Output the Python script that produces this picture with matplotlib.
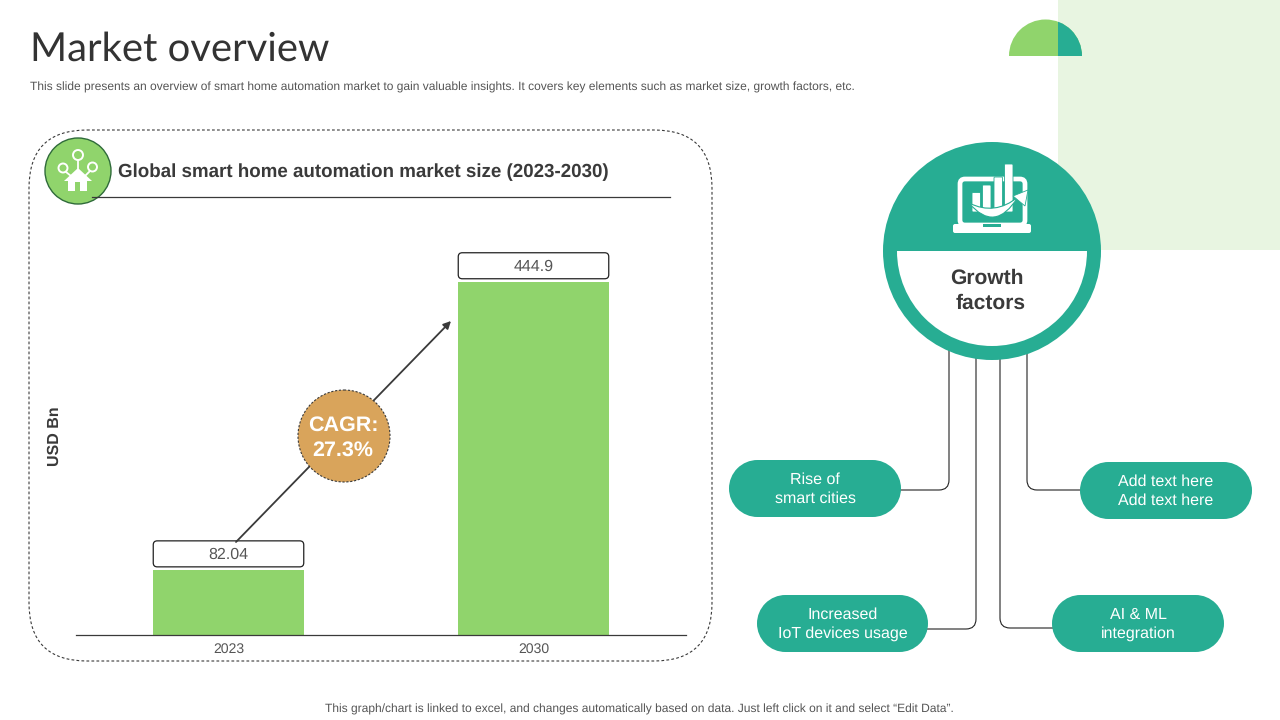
import matplotlib
matplotlib.use("Agg")
import matplotlib.pyplot as plt
from matplotlib.patches import Circle, FancyBboxPatch, Polygon, Rectangle, Wedge, PathPatch
from matplotlib.path import Path

plt.rcParams['font.family'] = ['Liberation Sans', 'DejaVu Sans']
plt.rcParams['text.hinting'] = 'no_hinting'

# data
years = ["2023", "2030"]
market_size = [82.04, 444.9]
value_labels = ["82.04", "444.9"]
cagr_label = "CAGR:\n27.3%"
pill_labels = ["Rise of\nsmart cities", "Add text here\nAdd text here",
               "Increased\nIoT devices usage", "AI & ML\nintegration"]

TEAL = "#27AD93"
GREEN = "#90D46C"
PALE = "#E8F5E1"
GOLD = "#D9A45B"
DARK = "#3A3A3A"
GREY = "#555555"


def px(v):
    # pixels to points at dpi 100
    return v * 0.72


fig = plt.figure(figsize=(12.8, 7.2), dpi=100, facecolor="white")

# bar chart, axes placed on the pixel box of the original
ax = fig.add_axes([76 / 1280, (720 - 635) / 720, 610 / 1280, 397 / 720])
ax.bar(range(len(years)), market_size, width=0.498, color=GREEN)
ax.set_xlim(-0.5, 1.5)
ax.set_ylim(0, 500)
ax.set_xticks(range(len(years)))
ax.set_xticklabels(years, fontsize=px(14), color=GREY)
ax.set_yticks([])
ax.tick_params(axis="x", length=0, pad=px(8))
for s in ["top", "left", "right"]:
    ax.spines[s].set_visible(False)
ax.spines["bottom"].set_color(DARK)
ax.spines["bottom"].set_linewidth(0.9)
ax.set_ylabel("USD Bn", fontsize=px(16), fontweight="bold", color=DARK)
ax.yaxis.set_label_coords(-14 / 610, 0.5)

# overlay in pixel coordinates for the slide decoration
ov = fig.add_axes([0, 0, 1, 1], zorder=3)
ov.set_xlim(0, 1280)
ov.set_ylim(720, 0)
ov.axis("off")
ov.patch.set_alpha(0)

# corner shapes
ov.add_patch(Rectangle((1058, 0), 222, 250, color=PALE, lw=0))
ov.add_patch(Wedge((1045.5, 56), 36.5, 180, 360, color=GREEN, lw=0))
clip = Rectangle((1058, 0), 40, 56, transform=ov.transData)
w = Wedge((1045.5, 56), 36.5, 180, 360, color=TEAL, lw=0)
ov.add_patch(w)
w.set_clip_path(clip)

# header
ov.text(30, 49, "Market overview", fontsize=px(40), family=["Lato", "DejaVu Sans"],
        color="#333333", va="center", ha="left")
ov.text(30, 87.5, "This slide presents an overview of smart home automation market to gain valuable insights. "
        "It covers key elements such as market size, growth factors, etc.",
        fontsize=px(12.05), color=GREY, va="center", ha="left")
ov.text(639, 709, "This graph/chart is linked to excel, and changes automatically based on data. "
        "Just left click on it and select \u201cEdit Data\u201d.",
        fontsize=px(12), color=GREY, va="center", ha="center")

# dashed panel
ov.add_patch(FancyBboxPatch((79, 180), 583, 431, boxstyle="round,pad=50,rounding_size=58",
                            fc="none", ec=DARK, lw=0.8, ls=(0, (2.5, 2))))
ov.plot([92, 670], [196.5, 196.5], color=DARK, lw=0.9)
ov.text(118, 172.5, "Global smart home automation market size (2023-2030)", fontsize=px(18.8),
        fontweight="bold", color=DARK, va="center", ha="left")

# house icon
ov.add_patch(Circle((78, 171), 33, fc=GREEN, ec="#2F6B3A", lw=1))
ov.add_patch(Polygon([[64, 181], [78, 168], [92, 181]], color="white", lw=0))
ov.add_patch(Rectangle((68, 180), 19, 11, color="white", lw=0))
ov.add_patch(Rectangle((75, 182), 5, 9, fc=GREEN, lw=0))
for cx, cy, r in [(63, 168, 4.5), (78, 155, 5), (92.5, 167, 4.5)]:
    ov.add_patch(Circle((cx, cy), r, fc=GREEN, ec="white", lw=1.4))
ov.plot([78, 78], [160, 168], color="white", lw=1.3)
ov.plot([66, 71], [172, 176], color="white", lw=1.3)
ov.plot([90, 85], [171, 176], color="white", lw=1.3)

# value boxes above the bars, positions taken from the chart axes
fig.canvas.draw()
for i, (val, lab) in enumerate(zip(market_size, value_labels)):
    x_disp, y_disp = ax.transData.transform((i, val))
    y_top = 720 - y_disp
    half = ax.transData.transform((i + 0.25, 0))[0] - x_disp
    ov.add_patch(FancyBboxPatch((x_disp - half + 1, y_top - 29), 2 * half - 2, 26,
                                boxstyle="round,pad=0,rounding_size=4",
                                fc="white", ec="#222222", lw=0.9))
    ov.text(x_disp, y_top - 15, lab, fontsize=px(16), color=GREY, va="center", ha="center")

# growth arrow and CAGR badge
ov.annotate("", xy=(451, 321), xytext=(236, 542),
            arrowprops=dict(arrowstyle="-|>", color=DARK, lw=1.3, mutation_scale=11,
                            shrinkA=0, shrinkB=0))
ov.add_patch(Circle((344, 436), 46, fc=GOLD, ec=DARK, lw=0.8, ls=(0, (2, 1.5)), zorder=4))
ov.text(343, 438, cagr_label, fontsize=px(21.5), fontweight="bold", color="white",
        ha="center", va="center", linespacing=1.4, zorder=5)

# connectors, drawn under the big circle
connectors = [
    [(949, 340), (949, 480), (949, 490), (939, 490), (900, 490)],
    [(976, 340), (976, 619), (976, 629), (966, 629), (927, 629)],
    [(1000, 340), (1000, 618), (1000, 628), (1010, 628), (1053, 628)],
    [(1027, 340), (1027, 480), (1027, 490), (1037, 490), (1081, 490)],
]
codes = [Path.MOVETO, Path.LINETO, Path.CURVE3, Path.CURVE3, Path.LINETO]
for c in connectors:
    ov.add_patch(PathPatch(Path(c, codes), fc="none", ec="#222222", lw=0.8, zorder=2))

# growth factors circle, y axis is flipped so 0-180 is the lower half
ov.add_patch(Circle((992, 251), 109, color=TEAL, lw=0, zorder=3))
ov.add_patch(Wedge((992, 251), 95, 0, 180, color="white", lw=0, zorder=3))
ov.text(987, 278, "Growth", fontsize=px(21), fontweight="bold", color=DARK,
        ha="center", va="center", zorder=4)
ov.text(991, 303, "factors", fontsize=px(21), fontweight="bold", color=DARK,
        ha="center", va="center", zorder=4)

# laptop icon
ov.add_patch(FancyBboxPatch((960, 179), 65, 46, boxstyle="round,pad=0,rounding_size=5",
                            fc=TEAL, ec="white", lw=3.4, zorder=4))
ov.add_patch(FancyBboxPatch((953, 224), 78, 9, boxstyle="round,pad=0,rounding_size=2",
                            color="white", lw=0, zorder=5))
ov.add_patch(Rectangle((983, 224), 18, 3, color=TEAL, lw=0, zorder=6))
for bx, by in [(972, 192.5), (982.5, 185), (994, 177), (1004.5, 164)]:
    ov.add_patch(FancyBboxPatch((bx, by), 8.5, 212 - by, boxstyle="round,pad=0,rounding_size=1",
                                fc="white", ec=TEAL, lw=0.6, zorder=5))
swoosh = Path([(969, 203), (995, 234), (1018, 197), (995, 216), (969, 203), (969, 203)],
              [Path.MOVETO, Path.CURVE3, Path.CURVE3, Path.CURVE3, Path.CURVE3, Path.CLOSEPOLY])
ov.add_patch(PathPatch(swoosh, fc="white", ec=TEAL, lw=0.8, zorder=6))
ov.add_patch(Polygon([[1028, 190], [1013, 196], [1025, 206]], fc="white", ec=TEAL, lw=0.6, zorder=6))

# pills, rectangle with round ends
pill_boxes = [(729, 460, 172, 57), (1080, 462, 172, 57), (757, 595, 171, 57), (1052, 595, 172, 57)]
for (x, y, w_, h), lab in zip(pill_boxes, pill_labels):
    r = h / 2
    ov.add_patch(Rectangle((x + r, y), w_ - h, h, color=TEAL, lw=0, zorder=4))
    ov.add_patch(Circle((x + r, y + r), r, color=TEAL, lw=0, zorder=4))
    ov.add_patch(Circle((x + w_ - r, y + r), r, color=TEAL, lw=0, zorder=4))
    ov.text(x + w_ / 2, y + h / 2 + 1, lab, fontsize=px(16), color="white", ha="center",
            va="center", linespacing=1.35, zorder=5)

fig.savefig("out.png", dpi=100)
